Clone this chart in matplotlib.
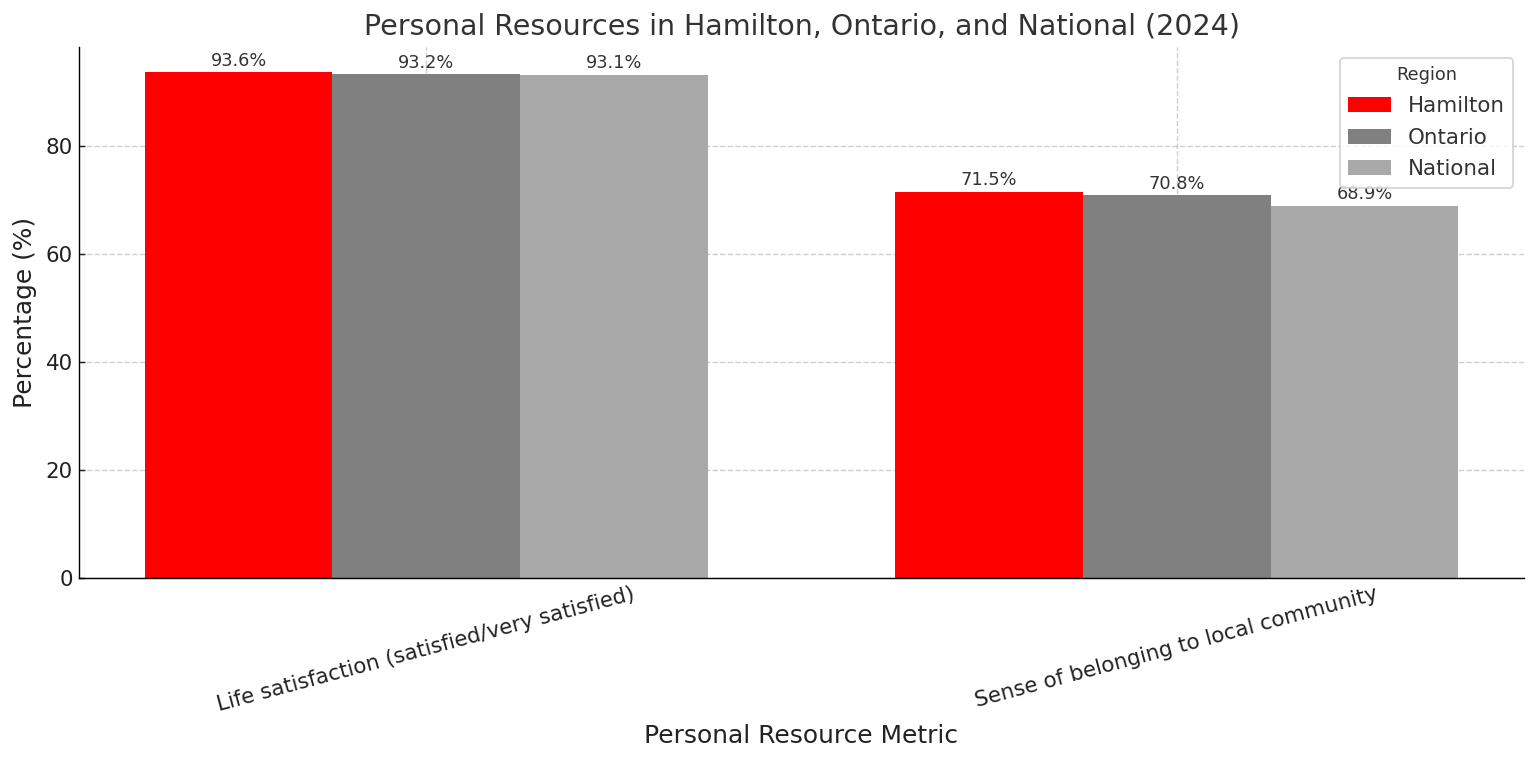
import matplotlib
matplotlib.use("Agg")
import matplotlib.pyplot as plt
import numpy as np

categories = ["Life satisfaction (satisfied/very satisfied)", "Sense of belonging to local community"]
regions = ["Hamilton", "Ontario", "National"]
hamilton = [93.6, 71.5]
ontario = [93.2, 70.8]
national = [93.1, 68.9]
colors = ["red", "gray", "darkgray"]

plt.rcParams['text.color'] = '#333333'
plt.rcParams['axes.labelcolor'] = '#222222'
plt.rcParams['xtick.color'] = '#222222'
plt.rcParams['ytick.color'] = '#222222'

fig = plt.figure(figsize=(12, 762/128), dpi=128)
ax = fig.add_axes([79/1536, 1-578/762, (1524-79)/1536, (578-47)/762])

x = np.arange(len(categories))
w = 0.25
for i, (vals, name, c) in enumerate(zip([hamilton, ontario, national], regions, colors)):
    bars = ax.bar(x + (i-1)*w, vals, w, label=name, color=c, zorder=2)
    for b, v in zip(bars, vals):
        ax.text(b.get_x()+b.get_width()/2, v+0.5, f"{v}%", ha='center', va='bottom', fontsize=10, color='#333333')

ax.set_xticks(x)
ax.set_xticklabels(categories, rotation=15, ha='center', fontsize=12)
ax.tick_params(axis='both', direction='in')
ax.tick_params(axis='y', labelsize=12)
ax.set_xlabel("Personal Resource Metric", fontsize=14, labelpad=5)
ax.set_ylabel("Percentage (%)", fontsize=14, labelpad=5)
ax.set_title("Personal Resources in Hamilton, Ontario, and National (2024)", fontsize=16, color='#333333', pad=7)
ax.grid(True, linestyle='--', alpha=0.6, zorder=0)
ax.set_axisbelow(True)
ax.spines['top'].set_visible(False)
ax.spines['right'].set_visible(False)
leg = ax.legend(title="Region", fontsize=12, title_fontsize=10, loc='upper right', labelspacing=0.55)

fig.savefig("out.png", dpi=128)
